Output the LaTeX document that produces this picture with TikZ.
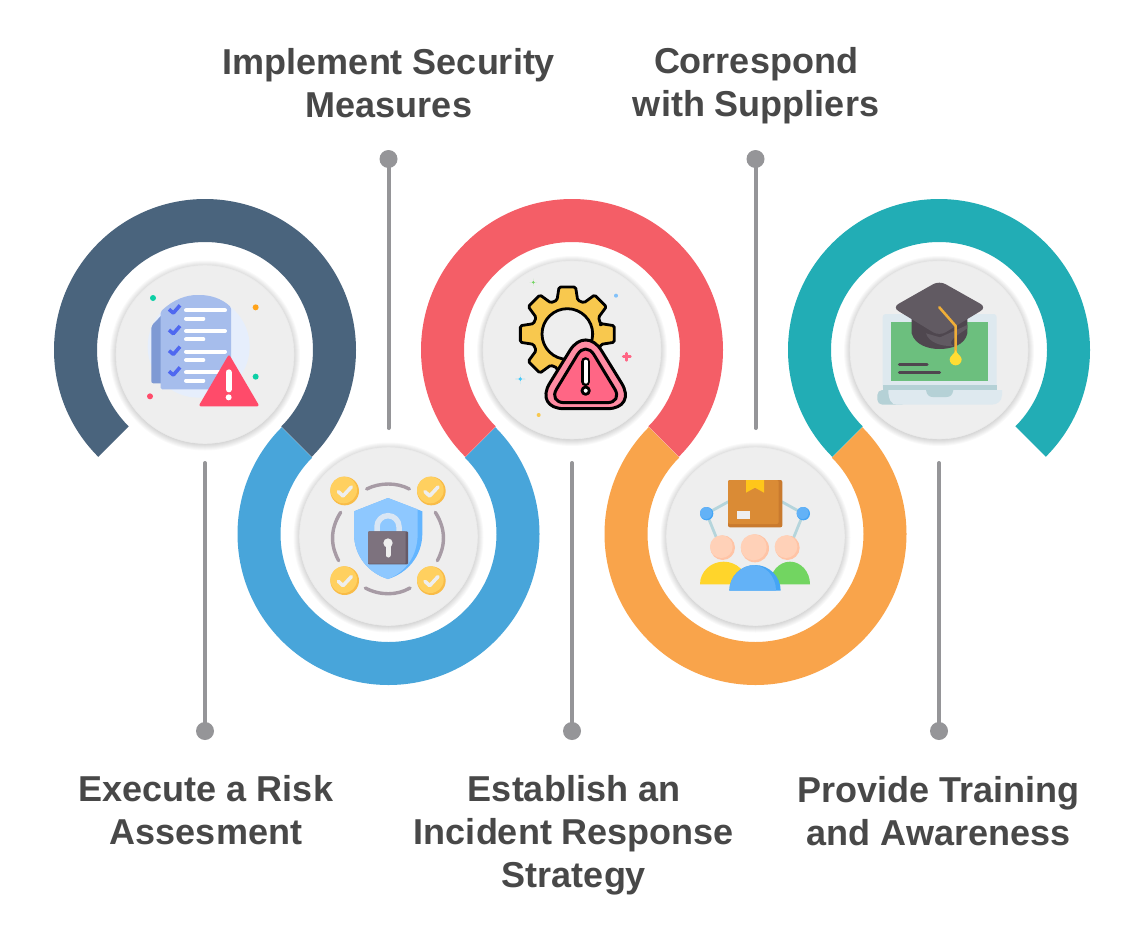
\documentclass[tikz,border=0pt]{standalone}
\usepackage{fontspec}
\setmainfont{Liberation Sans}
\definecolor{ringa}{HTML}{4A647D}
\definecolor{ringb}{HTML}{48A5DA}
\definecolor{ringc}{HTML}{F45E67}
\definecolor{ringd}{HTML}{F9A44B}
\definecolor{ringe}{HTML}{22ADB5}
\definecolor{discgray}{HTML}{EEEEEE}
\definecolor{conngray}{HTML}{959598}
\definecolor{labelgray}{HTML}{484848}
\definecolor{palecirc}{HTML}{E6EEFC}
\definecolor{pageback}{HTML}{7F9AD4}
\definecolor{pagefront}{HTML}{A6BDEC}
\definecolor{checkblue}{HTML}{4F68F0}
\definecolor{alertred}{HTML}{FF4B6A}
\definecolor{mintdot}{HTML}{0CCFA5}
\definecolor{orangedot}{HTML}{FFA31A}
\definecolor{goldlight}{HTML}{FFD05F}
\definecolor{golddark}{HTML}{F9BC47}
\definecolor{arcgray}{HTML}{A79BA5}
\definecolor{shieldblue}{HTML}{8EC8FF}
\definecolor{shielddark}{HTML}{63B5FF}
\definecolor{shacklecol}{HTML}{D9E6F4}
\definecolor{lockcol}{HTML}{7D727E}
\definecolor{lockdark}{HTML}{665A67}
\definecolor{gearcol}{HTML}{F8C84E}
\definecolor{warnout}{HTML}{FF8CA3}
\definecolor{warnin}{HTML}{FF6685}
\definecolor{boxcol}{HTML}{DA8B35}
\definecolor{boxdark}{HTML}{C97A2E}
\definecolor{tabcol}{HTML}{FFC61A}
\definecolor{linkcol}{HTML}{B5D5DC}
\definecolor{nodeblue}{HTML}{63B2F7}
\definecolor{nodebluedark}{HTML}{45A5F5}
\definecolor{skin}{HTML}{FFD1B8}
\definecolor{skindark}{HTML}{FFC4A6}
\definecolor{bodyyellow}{HTML}{FFD52B}
\definecolor{bodygreen}{HTML}{72D561}
\definecolor{lapbody}{HTML}{DEE9EF}
\definecolor{lapdark}{HTML}{B5D1D6}
\definecolor{lapscreen}{HTML}{6CBF7E}
\definecolor{capdark}{HTML}{4F474F}
\definecolor{capmid}{HTML}{615A62}
\definecolor{tassel}{HTML}{EFAE38}
\definecolor{tasseldrop}{HTML}{FFDD33}
\tikzset{
  disc/.style={circle,fill=discgray,draw=black!8,line width=0.6pt,minimum size=178pt,inner sep=0pt},
  dotnode/.style={circle,fill=conngray,minimum size=18pt,inner sep=0pt},
  conn/.style={draw=conngray,line width=4pt,line cap=round},
  lab/.style={text=labelgray,align=center,inner sep=0pt,font=\fontsize{36}{43}\selectfont\bfseries},
  zoomed/.style n args={2}{shift={(#1,#2)},x=0.33333pt,y=-0.33333pt,line join=round},
  whitebar/.style={draw=white,line width=4pt,line cap=round},
}
\newcommand{\ringsector}[5]{% cx cy start end colour
  \fill[#5] (#1,#2) ++(#3:151) arc[start angle=#3,end angle=#4,radius=151]
    -- ++({#4+180}:43) arc[start angle=#4,end angle=#3,radius=108] -- cycle;}
\newcommand{\discshadow}[2]{%
  \foreach \rr in {89,90,...,95}{\fill[black,opacity=0.022] (#1,#2+1) circle[radius=\rr];}}
\newcommand{\sparkle}[4]{%
  \fill[#4] ({#1},{#2-#3}) .. controls (#1,#2) .. ({#1+#3},#2) .. controls (#1,#2) .. (#1,{#2+#3})
    .. controls (#1,#2) .. ({#1-#3},#2) .. controls (#1,#2) .. cycle;
  \fill[#4] (#1,#2) circle[radius={0.33*#3}];}
\begin{document}
\begin{tikzpicture}[x=1pt,y=-1pt]
\useasboundingbox (0,0) rectangle (1143,937);
\fill[white] (0,0) rectangle (1143,937);

% rings
\ringsector{205}{350}{135}{405}{ringa}
\ringsector{388.5}{534}{-45}{225}{ringb}
\ringsector{572}{350}{135}{405}{ringc}
\ringsector{755.5}{534}{-45}{225}{ringd}
\ringsector{939}{350}{135}{405}{ringe}

% discs
\discshadow{205}{354.5}
\discshadow{388.5}{536.5}
\discshadow{572}{350}
\discshadow{755.5}{536.5}
\discshadow{939}{350}
\node[disc] (disca) at (205,354.5) {};
\node[disc] (discb) at (388.5,536.5) {};
\node[disc] (discc) at (572,350) {};
\node[disc] (discd) at (755.5,536.5) {};
\node[disc] (disce) at (939,350) {};

% connectors
\node[dotnode] (dota) at (205,731) {};
\node[dotnode] (dotb) at (388.5,159) {};
\node[dotnode] (dotc) at (572,731) {};
\node[dotnode] (dotd) at (755.5,159) {};
\node[dotnode] (dote) at (939,731) {};
\coordinate (enda) at (205,463);
\coordinate (endb) at (388.5,428);
\coordinate (endc) at (572,463);
\coordinate (endd) at (755.5,428);
\coordinate (ende) at (939,463);
\draw[conn] (dota.center) -- (enda);
\draw[conn] (dotb.center) -- (endb);
\draw[conn] (dotc.center) -- (endc);
\draw[conn] (dotd.center) -- (endd);
\draw[conn] (dote.center) -- (ende);

% labels
\node[lab] (laba) at (206,810) {Execute a Risk\\Assesment};
\node[lab] (labb) at (389,83) {Implement Security\\Measures};
\node[lab] (labc) at (574,835) {Establish an\\Incident Response\\Strategy};
\node[lab] (labd) at (756,86) {Correspond\\with Suppliers};
\node[lab] (labe) at (938.5,811) {Provide Training\\and Awareness};

% icon 1: checklist
\begin{scope}[zoomed={120}{270}]
  \fill[palecirc] (236,230) circle[radius=153];
  \fill[pageback,rounded corners=2pt] (94,340) -- (94,168) -- (135,125) -- (135,340) -- cycle;
  \fill[pagefront,rounded corners=1.5pt] (122,358) -- (122,125) .. controls (160,88) and (200,75) .. (235,75) .. controls (270,75) and (305,85) .. (333,112) -- (333,358) -- cycle;
  \foreach \dy in {0,62,124,186}{
    \draw[checkblue,line width=3.6pt] (147,{118+\dy}) -- (160,{129+\dy}) -- (180,{106+\dy});
    \draw[whitebar] (198,{121+\dy}) -- (315,{121+\dy});
    \draw[whitebar] (198,{146+\dy}) -- (250,{146+\dy});
  }
  \fill[alertred,draw=alertred,line width=2.5pt] (327,260) -- (242,405) -- (412,405) -- cycle;
  \draw[whitebar,line width=6pt] (326,307) -- (326,358);
  \fill[white] (326,382) circle[radius=9];
  \fill[mintdot] (99,84) circle[radius=9];
  \fill[orangedot] (407,112) circle[radius=9];
  \fill[mintdot] (407,320) circle[radius=9];
  \fill[alertred] (90,379) circle[radius=9];
\end{scope}

% icon 2: shield and lock
\begin{scope}[zoomed={230}{420}]
  \foreach \cx/\cy in {344/213,604/213,344/482,604/482}{
    \fill[golddark] (\cx,\cy) circle[radius=43];
    \fill[goldlight] ({\cx-3},{\cy-3}) circle[radius=40];
    \draw[discgray,line width=3.6pt,line cap=round] ({\cx-19},{\cy+2}) -- ({\cx-5},{\cy+15}) -- ({\cx+20},{\cy-12});
  }
  \begin{scope}[arcgray,line width=3.4pt,line cap=round]
    \draw (410,207) .. controls (450,187) and (500,187) .. (538,207);
    \draw (406,504) .. controls (450,527) and (500,527) .. (540,504);
    \draw (332,277) .. controls (298,330) and (303,380) .. (326,422);
    \draw (616,277) .. controls (650,330) and (645,380) .. (622,422);
  \end{scope}
  \fill[shielddark] (474,234) -- (577,274) -- (577,340) .. controls (577,410) and (530,460) .. (474,477) .. controls (418,460) and (372,410) .. (372,340) -- (372,274) -- cycle;
  \fill[shieldblue] (474,234) -- (563,268) -- (563,340) .. controls (563,410) and (525,457) .. (474,477) .. controls (418,460) and (372,410) .. (372,340) -- (372,274) -- cycle;
  \draw[shacklecol,line width=5.5pt] (441,340) -- (441,320) arc[start angle=180,end angle=360,radius=33] -- (507,340);
  \fill[lockdark,rounded corners=1pt] (414,334) rectangle (534,433);
  \fill[lockcol,rounded corners=1pt] (414,334) rectangle (527,431);
  \fill[discgray] (474,369) circle[radius=14];
  \draw[discgray,line width=5pt,line cap=round] (474,372) -- (474,405);
\end{scope}

% icon 3: gear and warning
\begin{scope}[zoomed={460}{260}]
  \begin{scope}[shift={(322,222)}]
    \draw[black,fill=gearcol,line width=2.8pt,rounded corners=1.5pt] (-16:104)
      \foreach \a in {0,45,...,315}{ -- ({\a-17}:106) -- ({\a-10}:143) -- ({\a+10}:143) -- ({\a+17}:106)} -- cycle;
    \draw[black,fill=discgray,line width=2.8pt] (0,0) circle[radius=76];
  \end{scope}
  \draw[black,fill=warnout,line width=3pt,rounded corners=30pt] (377,195) -- (222,446) -- (532,446) -- cycle;
  \draw[black,fill=warnin,line width=3pt,rounded corners=16pt] (377,243) -- (265,428) -- (489,428) -- cycle;
  \draw[black,line width=9pt,line cap=round] (377,305) -- (377,365);
  \draw[white,line width=4pt,line cap=round] (377,305) -- (377,365);
  \draw[black,fill=white,line width=2.8pt] (377,392) circle[radius=11];
  \sparkle{220}{67}{11}{bodygreen}
  \sparkle{181}{357}{15}{nodeblue!70!cyan}
  \fill[nodeblue!80] (468,107) circle[radius=6];
  \fill[gearcol] (236,465) circle[radius=6];
  \draw[warnin,line width=2.8pt,line cap=round] (490,290) -- (511,290);
  \draw[warnin,line width=2.8pt,line cap=round] (500,280) -- (500,301);
\end{scope}

% icon 4: box and people
\begin{scope}[zoomed={650}{440}]
  \draw[linkcol,line width=2.8pt] (235,185) -- (170,221) -- (200,295);
  \draw[linkcol,line width=2.8pt] (395,185) -- (460,221) -- (430,295);
  \fill[boxdark,rounded corners=2pt] (234,120) rectangle (397,262);
  \fill[boxcol,rounded corners=2pt] (234,120) rectangle (386,252);
  \fill[tabcol] (288,120) -- (342,120) -- (342,158) -- (315,143) -- (288,158) -- cycle;
  \fill[discgray] (261,212) rectangle (300,236);
  \foreach \nx in {170,460}{
    \fill[nodebluedark] (\nx,221) circle[radius=20];
    \fill[nodeblue] ({\nx-2},219) circle[radius=18];
  }
  \foreach \hx/\hy/\hr in {218/323/37,412/323/37,315/325/42}{
    \fill[skindark] (\hx,\hy) circle[radius=\hr];
    \fill[skin] ({\hx-4},{\hy-3}) circle[radius={\hr-3}];
  }
  \fill[bodyyellow] (150,433) arc[start angle=180,end angle=360,x radius=71,y radius=68] -- cycle;
  \fill[bodygreen] (360,433) arc[start angle=180,end angle=360,x radius=60,y radius=68] -- cycle;
  \fill[nodebluedark] (238,452) arc[start angle=180,end angle=360,x radius=77,y radius=77] -- cycle;
  \begin{scope}
    \clip (238,452) arc[start angle=180,end angle=360,x radius=77,y radius=77] -- cycle;
    \fill[nodeblue] (238,452) arc[start angle=180,end angle=360,x radius=70,y radius=77] -- cycle;
  \end{scope}
\end{scope}

% icon 5: laptop and cap
\begin{scope}[zoomed={840}{250}]
  \fill[lapbody,rounded corners=3pt] (128,192) rectangle (470,420);
  \fill[lapscreen] (153,216) rectangle (444,393);
  \fill[lapdark] (128,406) rectangle (470,420);
  \fill[lapdark,rounded corners=5pt] (112,420) -- (112,464) -- (200,464) -- (200,420) -- cycle;
  \fill[lapbody] (145,420) -- (486,420) -- (486,435) .. controls (486,455) and (470,464) .. (455,464) -- (170,464) .. controls (155,464) and (145,450) .. (145,420) -- cycle;
  \fill[lapdark] (258,420) -- (340,420) .. controls (338,435) and (330,441) .. (320,441) -- (278,441) .. controls (268,441) and (260,435) .. (258,420) -- cycle;
  \draw[capdark,line width=3pt,line cap=round] (178,343) -- (261,343);
  \draw[capdark,line width=3pt,line cap=round] (178,367) -- (299,367);
  \fill[capdark] (215,195) -- (215,250) .. controls (225,285) and (265,297) .. (298,297) .. controls (335,297) and (375,285) .. (382,250) -- (382,195) -- cycle;
  \fill[capmid] (258,250) .. controls (265,275) and (300,290) .. (340,288) .. controls (320,275) and (345,260) .. (382,235) -- (382,225) -- (300,262) -- cycle;
  \fill[capmid,rounded corners=7pt] (298,92) -- (440,172) -- (298,258) -- (157,172) -- cycle;
  \draw[tassel,line width=2.6pt,line cap=round] (298,172) -- (347,228) -- (347,310);
  \fill[tasseldrop] (347,300) .. controls (350,312) and (365,318) .. (365,328) arc[start angle=0,end angle=180,radius=18] .. controls (329,318) and (344,312) .. (347,300) -- cycle;
\end{scope}
\end{tikzpicture}
\end{document}
